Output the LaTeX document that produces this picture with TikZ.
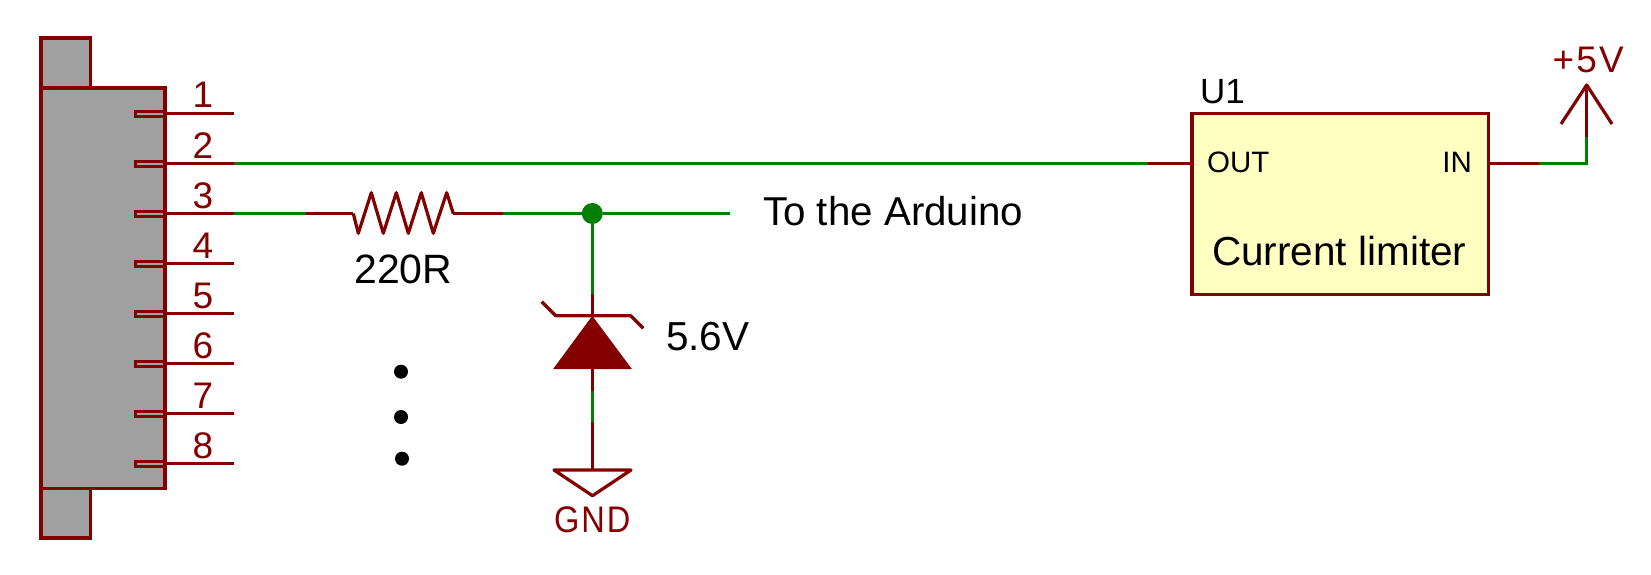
\documentclass[tikz,border=0pt]{standalone}
\usepackage{fontspec}
\setmainfont{Liberation Sans}
\newfontfamily\vecfont[LetterSpace=6]{Liberation Sans}
\definecolor{schred}{HTML}{840000}
\definecolor{schgreen}{HTML}{008000}
\definecolor{schgrey}{HTML}{A0A0A0}
\definecolor{schyellow}{HTML}{FFFFC2}
\tikzset{
  sym/.style={draw=schred,line width=3.2pt,line cap=butt,line join=miter},
  wire/.style={draw=schgreen,line width=3.2pt},
  housing/.style={sym,fill=schgrey},
  pinlabel/.style={text=schred,font=\fontsize{37}{37}\selectfont,inner sep=0pt,anchor=base},
  vlabel/.style={text=schred,font=\vecfont\fontsize{37}{37}\selectfont,inner sep=0pt,anchor=base},
  txt/.style={text=black,inner sep=0pt,anchor=base west},
  dotmark/.style={circle,fill=black,inner sep=0pt,minimum size=14pt},
  junction/.style={circle,fill=schgreen,inner sep=0pt,minimum size=21pt},
  ic/.style={sym,fill=schyellow,inner sep=0pt,minimum width=296.7pt,minimum height=181pt}
}
\begin{document}
\begin{tikzpicture}[x=1pt,y=-1pt]
\useasboundingbox (0,0) rectangle (1651,575);
% housing
\draw[housing] (41,38) rectangle (90.7,88);
\draw[housing] (41,488.6) rectangle (90.7,538);
\draw[housing] (41,88) rectangle (165,488.6);
% pins
\foreach \n/\y in {1/113.5,2/163.5,3/213.5,4/263.5,5/313.5,6/363.5,7/413.5,8/463.5}{
  \coordinate (pinin\n) at (165,\y);
  \coordinate (pin\n) at (234,\y);
  \draw[sym,line width=2.8pt] (135.5,\y-1.8) rectangle (165,\y+2.8);
  \draw[sym] (pinin\n) -- (pin\n);
  \node[pinlabel] (lab\n) at (203,\y-5.5) {\n};
}
% points
\coordinate (w2end) at (1148,163.5);
\coordinate (outpin) at (1192,163.5);
\coordinate (w3a) at (305.7,213.5);
\coordinate (r1) at (353.3,213.5);
\coordinate (r2) at (453.3,213.5);
\coordinate (w3b) at (503.3,213.5);
\coordinate (arduino) at (730,213.5);
\coordinate (zk) at (592.3,294);
\coordinate (zc) at (592.3,316.7);
\coordinate (za) at (592.3,368.7);
\coordinate (zl) at (592.3,390.7);
\coordinate (zm) at (592.3,421.7);
\coordinate (gnd) at (592.3,470);
\coordinate (inpin) at (1488.7,163.5);
\coordinate (inw) at (1539.3,163.5);
\coordinate (corner) at (1586.7,163.5);
\coordinate (vw) at (1586.7,137.3);
\coordinate (vtop) at (1586.7,85);
% IC
\node[ic] (u1) at (1340.35,203.8) {};
\node[txt,font=\fontsize{35}{35}\selectfont] (u1name) at (1200,104) {U1};
\node[txt,font=\fontsize{29.5}{29.5}\selectfont] (outl) at (1207,172.5) {OUT};
\node[txt,font=\fontsize{29.5}{29.5}\selectfont,anchor=base east] (inl) at (1472,172.5) {IN};
\node[txt,font=\fontsize{40.5}{40.5}\selectfont] (cl) at (1212,265) {Current limiter};
% wires
\draw[wire] (pin2) -- (w2end);
\draw[sym] (w2end) -- (outpin);
\draw[wire] (pin3) -- (w3a);
\draw[sym] (w3a) -- (r1);
\draw[sym,line join=round] (r1) -- (358.3,233.3) -- (371.3,192.7) -- (383.3,233.3) -- (396.3,192.7) -- (408.3,233.3) -- (421.3,192.7) -- (433.3,233.3) -- (446.7,192.7) -- (r2);
\draw[sym] (r2) -- (w3b);
\node[junction] (j) at (592.3,213.5) {};
\draw[wire] (w3b) -- (j);
\draw[wire] (j) -- (arduino);
\draw[wire] (j) -- (zk);
\draw[sym] (zk) -- (zc);
\draw[sym,line join=round] (541.7,301.7) -- (555.7,315.7) -- (630.7,315.7) -- (643.3,328.3);
\draw[sym,fill=schred,line width=1pt] (zc) -- (554,368.7) -- (631,368.7) -- cycle;
\draw[sym] (za) -- (zl);
\draw[wire] (zl) -- (zm);
\draw[sym] (zm) -- (gnd);
\draw[sym,fill=white,line join=round] (554,470) -- (631,470) -- (592.5,495.7) -- cycle;
\node[vlabel] (gndl) at (592.3,532.5) {\scalebox{.88}[1]{GND}};
\draw[sym] (inpin) -- (inw);
\draw[wire,line join=miter] (inw) -- (corner) -- (vw);
\draw[sym] (vw) -- (vtop);
\draw[sym,line join=round] (1561,124) -- (vtop) -- (1612,124);
\node[vlabel,anchor=base east] (vcc) at (1624,73) {+5V};
% text
\node[txt,font=\fontsize{41}{41}\selectfont] (rv) at (354,283) {220R};
\node[txt,font=\fontsize{40.5}{40.5}\selectfont] (zv) at (666,350) {5.6V};
\node[txt,font=\fontsize{40.3}{40.3}\selectfont] (ard) at (763,225.5) {To the Arduino};
\node[dotmark] (d1) at (401,371.7) {};
\node[dotmark] (d2) at (401,417) {};
\node[dotmark] (d3) at (402,458.7) {};
\end{tikzpicture}
\end{document}
